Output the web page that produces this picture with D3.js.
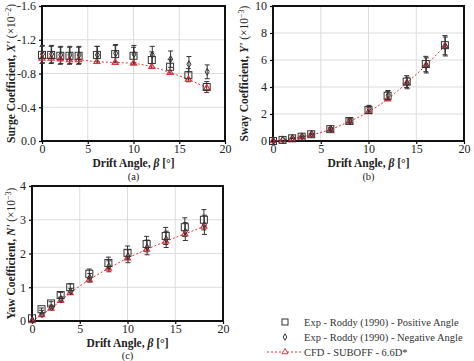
<!DOCTYPE html>
<html>
<head>
<meta charset="utf-8">
<script src="https://cdn.jsdelivr.net/npm/d3@7"></script>
<style>
  body { margin: 0; background: #fff; }
  text { font-family: "Liberation Serif", "Times New Roman", serif; }
</style>
</head>
<body>
<svg id="chart" width="474" height="361"></svg>
<script>
// --- data
var beta = [0, 1, 2, 3, 4, 6, 8, 10, 12, 14, 16, 18];

var surgePos = [-1.02, -1.02, -1.01, -1.01, -1.01, -1.02, -1.03, -1.01, -0.96, -0.88, -0.78, -0.64];
var surgeNeg = [-1.03, -1.03, -1.02, -1.02, -1.02, -1.02, -1.04, -1.03, -1.02, -0.97, -0.91, -0.82];
var surgeCfd = [-0.98, -0.98, -0.97, -0.96, -0.96, -0.94, -0.93, -0.92, -0.88, -0.81, -0.73, -0.63];

var swayPos = [0.0, 0.08, 0.2, 0.32, 0.5, 0.88, 1.48, 2.3, 3.35, 4.4, 5.7, 7.1];
var swayNeg = [0.0, 0.1, 0.22, 0.34, 0.52, 0.9, 1.5, 2.4, 3.4, 4.3, 5.6, 7.0];
var swayCfd = [0.0, 0.07, 0.17, 0.3, 0.45, 0.85, 1.45, 2.15, 3.1, 4.3, 5.6, 7.05];

var yawPos = [0.08, 0.35, 0.52, 0.77, 1.0, 1.4, 1.72, 2.02, 2.28, 2.52, 2.78, 3.0];
var yawNeg = [0.02, 0.2, 0.4, 0.65, 0.88, 1.28, 1.62, 1.92, 2.18, 2.42, 2.65, 2.85];
var yawCfd = [0.0, 0.18, 0.37, 0.6, 0.83, 1.22, 1.56, 1.86, 2.12, 2.36, 2.58, 2.8];

var legendLabels = ["Exp - Roddy (1990) - Positive Angle",
                    "Exp - Roddy (1990) - Negative Angle",
                    "CFD - SUBOFF - 6.6D*"];

var red = "#e0353a";
var svg = d3.select("#chart");

function panel(opt){
  var g = svg.append("g");
  var x = d3.scaleLinear().domain([0, 20]).range([opt.left, opt.right]);
  var y = d3.scaleLinear().domain(opt.yDomain).range([opt.bottom, opt.top]);

  // grid
  g.append("g").selectAll("line").data([5, 10, 15]).enter().append("line")
      .attr("x1", d => x(d)).attr("x2", d => x(d))
      .attr("y1", opt.top).attr("y2", opt.bottom)
      .attr("stroke", "#dcdcdc").attr("stroke-width", 1);
  g.append("g").selectAll("line").data(opt.yTicks.slice(1, -1)).enter().append("line")
      .attr("x1", opt.left).attr("x2", opt.right)
      .attr("y1", d => y(d)).attr("y2", d => y(d))
      .attr("stroke", "#dcdcdc").attr("stroke-width", 1);

  // axes
  var xAxis = g.append("g")
      .attr("transform", "translate(0," + opt.bottom + ")")
      .call(d3.axisBottom(x).tickValues([0, 5, 10, 15, 20]).tickSize(3).tickSizeOuter(0));
  var yAxis = g.append("g")
      .attr("transform", "translate(" + opt.left + ",0)")
      .call(d3.axisLeft(y).tickValues(opt.yTicks).tickFormat(opt.fmt).tickSize(3).tickSizeOuter(0));
  [xAxis, yAxis].forEach(function(a){
    a.select(".domain").remove();
    a.selectAll("line").attr("stroke", "#000").attr("stroke-width", 1.2);
    a.selectAll("text").style("font-size", "12px").attr("fill", "#222")
      .style("font-family", "Liberation Serif, serif");
  });
  xAxis.selectAll("text").attr("y", 3).attr("dy", "0.71em");

  // frame
  g.append("rect")
      .attr("x", opt.left).attr("y", opt.top)
      .attr("width", opt.right - opt.left).attr("height", opt.bottom - opt.top)
      .attr("fill", "none").attr("stroke", "#111").attr("stroke-width", 2);

  // CFD line
  var pts = beta.map((b, i) => [b, opt.cfd[i]]);
  g.append("path")
      .attr("d", d3.line().curve(d3.curveMonotoneX).x(d => x(d[0])).y(d => y(d[1]))(pts))
      .attr("fill", "none").attr("stroke", red).attr("stroke-width", 1)
      .attr("stroke-dasharray", "2,2");

  // error bars
  function errorBars(vals, dx){
    var eg = g.append("g");
    beta.forEach(function(b, i){
      var v = vals[i], e = Math.abs(v) * 0.1;
      if (e < 0.02) return;
      var cx = x(b) + dx;
      eg.append("line").attr("x1", cx).attr("x2", cx)
        .attr("y1", y(v - e)).attr("y2", y(v + e))
        .attr("stroke", "#333").attr("stroke-width", 1);
      [v - e, v + e].forEach(function(t){
        eg.append("line").attr("x1", cx - 2.5).attr("x2", cx + 2.5)
          .attr("y1", y(t)).attr("y2", y(t))
          .attr("stroke", "#333").attr("stroke-width", 1);
      });
    });
  }
  errorBars(opt.pos, 0);
  errorBars(opt.neg, 0.5);

  // markers
  g.append("g").selectAll("path").data(opt.cfd).enter().append("path")
      .attr("transform", (d, i) => "translate(" + x(beta[i]) + "," + y(d) + ")")
      .attr("d", d3.symbol(d3.symbolTriangle, 16))
      .attr("fill", "none").attr("stroke", red).attr("stroke-width", 1.2);
  g.append("g").selectAll("path").data(opt.neg).enter().append("path")
      .attr("transform", (d, i) => "translate(" + (x(beta[i]) + 0.5) + "," + y(d) + ")")
      .attr("d", d3.symbol(d3.symbolDiamond, 14))
      .attr("fill", "none").attr("stroke", "#333").attr("stroke-width", 1);
  g.append("g").selectAll("rect").data(opt.pos).enter().append("rect")
      .attr("x", (d, i) => x(beta[i]) - 3.5).attr("y", d => y(d) - 3.5)
      .attr("width", 7).attr("height", 7)
      .attr("fill", "none").attr("stroke", "#333").attr("stroke-width", 1);

  // x title
  var xt = g.append("text")
      .attr("x", (opt.left + opt.right) / 2).attr("y", opt.bottom + 26)
      .attr("text-anchor", "middle")
      .style("font-size", "11.5px").style("font-weight", "bold").attr("fill", "#222");
  xt.append("tspan").text("Drift Angle, ");
  xt.append("tspan").style("font-style", "italic").text("β");
  xt.append("tspan").text(" [°]");

  g.append("text")
      .attr("x", (opt.left + opt.right) / 2).attr("y", opt.bottom + opt.capDy)
      .attr("text-anchor", "middle")
      .style("font-size", "10.5px").attr("fill", "#222")
      .text(opt.cap);

  // y title
  var yt = g.append("text")
      .attr("transform", "rotate(-90)")
      .attr("x", -(opt.top + opt.bottom) / 2).attr("y", opt.ytx)
      .attr("text-anchor", "middle")
      .style("font-size", "11.5px").style("font-weight", "bold").attr("fill", "#222");
  yt.append("tspan").text(opt.yName + " Coefficient, ");
  yt.append("tspan").style("font-style", "italic").text(opt.ySym + "'");
  yt.append("tspan").style("font-weight", "normal").text(" (×10");
  yt.append("tspan").style("font-weight", "normal").style("font-size", "8px")
      .attr("dy", "-4").text(opt.exp);
  yt.append("tspan").style("font-weight", "normal").attr("dy", "4").text(")");
}

panel({left: 42, right: 225, top: 6, bottom: 141,
       yDomain: [0, -1.6], yTicks: [0, -0.4, -0.8, -1.2, -1.6], fmt: d => d.toFixed(1),
       pos: surgePos, neg: surgeNeg, cfd: surgeCfd,
       cap: "(a)", capDy: 39, ytx: 15, yName: "Surge", ySym: "X", exp: "−2"});

panel({left: 273, right: 464, top: 6, bottom: 141,
       yDomain: [0, 10], yTicks: [0, 2, 4, 6, 8, 10], fmt: d3.format("d"),
       pos: swayPos, neg: swayNeg, cfd: swayCfd,
       cap: "(b)", capDy: 39, ytx: 248, yName: "Sway", ySym: "Y", exp: "−3"});

panel({left: 32, right: 223, top: 186, bottom: 321,
       yDomain: [0, 4], yTicks: [0, 1, 2, 3, 4], fmt: d3.format("d"),
       pos: yawPos, neg: yawNeg, cfd: yawCfd,
       cap: "(c)", capDy: 38, ytx: 15, yName: "Yaw", ySym: "N", exp: "−3"});

// legend
var leg = svg.append("g");
var ly = [322, 337, 352];
leg.append("rect").attr("x", 282).attr("y", ly[0] - 3).attr("width", 6).attr("height", 6)
    .attr("fill", "none").attr("stroke", "#333");
leg.append("path").attr("transform", "translate(285," + ly[1] + ")")
    .attr("d", d3.symbol(d3.symbolDiamond, 12))
    .attr("fill", "none").attr("stroke", "#333");
leg.append("line").attr("x1", 267).attr("x2", 302).attr("y1", ly[2]).attr("y2", ly[2])
    .attr("stroke", red).attr("stroke-dasharray", "2,2");
leg.append("path").attr("transform", "translate(285," + ly[2] + ")")
    .attr("d", d3.symbol(d3.symbolTriangle, 16))
    .attr("fill", "#fff").attr("stroke", red);
leg.selectAll("text.lab").data(legendLabels).enter().append("text")
    .attr("class", "lab")
    .attr("x", 304).attr("y", (d, i) => ly[i]).attr("dy", "0.35em")
    .style("font-size", "10.5px").attr("fill", "#333")
    .text(d => d);
</script>
</body>
</html>
